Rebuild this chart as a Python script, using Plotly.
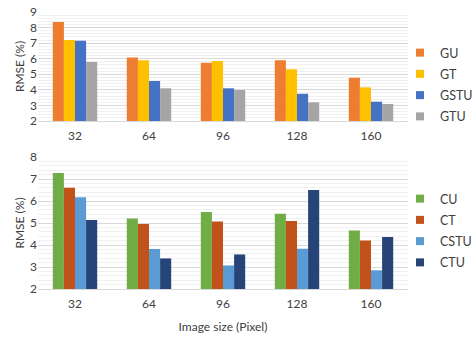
import plotly.graph_objects as go

sizes = ["32", "64", "96", "128", "160"]
gu = [8.36, 6.07, 5.74, 5.90, 4.78]
gt = [7.20, 5.90, 5.85, 5.32, 4.16]
gstu = [7.15, 4.57, 4.10, 3.75, 3.24]
gtu = [5.79, 4.10, 3.99, 3.20, 3.09]
cu = [7.27, 5.21, 5.50, 5.42, 4.66]
ct = [6.60, 4.95, 5.07, 5.09, 4.20]
cstu = [6.17, 3.82, 3.07, 3.83, 2.85]
ctu = [5.14, 3.39, 3.57, 6.50, 4.36]

top_series = [("GU", gu, "#ED7D31"), ("GT", gt, "#FFC000"),
              ("GSTU", gstu, "#4472C4"), ("GTU", gtu, "#A5A5A5")]
bot_series = [("CU", cu, "#70AD47"), ("CT", ct, "#C0521A"),
              ("CSTU", cstu, "#5B9BD5"), ("CTU", ctu, "#264478")]

fig = go.Figure()
for series, xa, ya, lg in [(top_series, "x", "y", "legend"), (bot_series, "x2", "y2", "legend2")]:
    for name, vals, col in series:
        fig.add_trace(go.Bar(x=sizes, y=vals, name=name, marker_color=col,
                             marker_line_width=0, xaxis=xa, yaxis=ya, showlegend=False))
        # legend entry with small square swatch
        fig.add_trace(go.Scatter(x=[None], y=[None], mode="markers", name=name,
                                 marker=dict(symbol="square", size=8, color=col),
                                 xaxis=xa, yaxis=ya, legend=lg, legendgroup=name,
                                 showlegend=True))

font = dict(family="Lato, Open Sans, sans-serif", size=12, color="#404040")
common_y = dict(showline=False, zeroline=False, gridcolor="#D9D9D9", gridwidth=1,
                dtick=1, ticks="", tickfont=dict(size=12, color="#404040"), automargin=False,
                minor=dict(dtick=0.2, showgrid=True, gridcolor="#F0F0F0", gridwidth=1),
                title=dict(text="RMSE (%)", font=dict(size=12, color="#404040"), standoff=2))
common_x = dict(type="category", showline=True, linecolor="#D9D9D9", linewidth=1,
                ticks="", showgrid=False, tickfont=dict(size=12, color="#404040"),
                ticklabelstandoff=4, automargin=False, domain=[38/474, 408/474])

leg_common = dict(x=400/474, xanchor="left", yanchor="top",
                  font=dict(size=12.5, color="#404040"), tracegroupgap=2, itemwidth=30,
                  bgcolor="rgba(0,0,0,0)")

fig.update_layout(
    width=474, height=345,
    margin=dict(l=0, r=0, t=0, b=0, autoexpand=False),
    paper_bgcolor="white", plot_bgcolor="white",
    font=font,
    barmode="group", bargap=0.40, bargroupgap=0,
    xaxis=dict(**common_x, anchor="y"),
    xaxis2=dict(**common_x, anchor="y2",
                title=dict(text="Image size (Pixel)", font=dict(size=12, color="#404040"), standoff=12)),
    yaxis=dict(**common_y, range=[2, 9], domain=[1-121/345, 1-12/345], anchor="x"),
    yaxis2=dict(**common_y, range=[2, 8], domain=[1-289/345, 1-157/345], anchor="x2"),
    legend=dict(**leg_common, y=1-38/345),
    legend2=dict(**leg_common, y=1-184/345),
)

fig.write_html("out.html")
